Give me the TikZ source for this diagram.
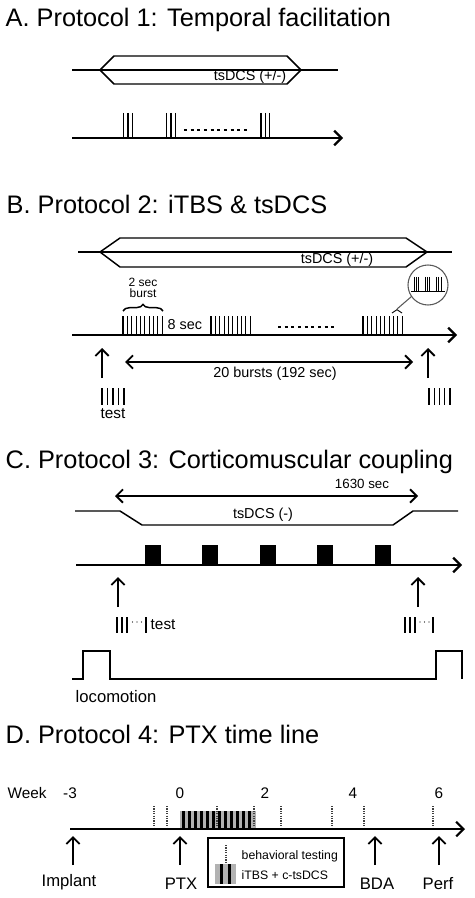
\documentclass[tikz,border=0pt]{standalone}
\usepackage{fontspec}
\setmainfont{Liberation Sans}
\usetikzlibrary{arrows.meta,decorations.pathreplacing}

\begin{document}
\begin{tikzpicture}[x=0.75pt,y=0.75pt,yscale=-1,xscale=1,line width=1.1pt,
  uparr/.style={line width=1.2pt,-{Straight Barb[length=5pt,width=10pt,line width=1.4pt]}},
  darr/.style={line width=1.2pt,{Straight Barb[length=5pt,width=10pt,line width=1.4pt]}-{Straight Barb[length=5pt,width=10pt,line width=1.4pt]}},
  axis/.style={line width=1.35pt,-{Straight Barb[length=5.5pt,width=11pt,line width=1.6pt]}},
  ttl/.style={anchor=base west,inner sep=0pt,font=\fontsize{19}{21}\selectfont},
  lbl/.style={anchor=base,inner sep=0pt,font=\fontsize{10.8}{12}\selectfont},
  spk/.style={line width=0.8pt},
  dotline/.style={line width=2.2pt,dash pattern=on 2.2pt off 2.8pt},
  btest/.style={line width=1pt,dash pattern=on 0.9pt off 0.9pt,black!75},
]
\path[use as bounding box] (0,0) rectangle (474,898);

% ---------------- A ----------------
% Text Node
\node[ttl] (titleA) at (5,27) {A. Protocol 1: Temporal facilitation};
%Shapes
\draw (72,70) -- (338,70);
\draw (100,70) -- (114,56) -- (287,56) -- (301,70) -- (287,84) -- (114,84) -- cycle;
% Text Node
\node[lbl] (dcsA) at (250,81) {tsDCS (+/-)};
%Straight Lines
\draw[axis] (72,138) -- (343,138);
\foreach \x in {123.5,128,132.5,166.7,171,175.3,261,265.3,269.6}
  \draw[spk] (\x,113) -- (\x,138);
\draw[dotline] (184,130) -- (250,130);

% ---------------- B ----------------
% Text Node
\node[ttl] (titleB) at (6,214) {B. Protocol 2: iTBS \& tsDCS};
%Shapes
\draw (78,252) -- (452,252);
\draw (100,252) -- (120,238) -- (406,238) -- (427,252) -- (406,267) -- (120,267) -- cycle;
% Text Node
\node[lbl] (dcsB) at (337,263) {tsDCS (+/-)};
%Straight Lines
\draw[axis] (72,335) -- (457,335);
\foreach \s in {123,211,363}
  \foreach \i in {0,...,9}
    \draw[spk] ({\s+4.35*\i},316) -- ({\s+4.35*\i},335);
\draw[dotline] (278,327) -- (337,327);
% brace over one burst
\draw[decorate,decoration={brace,amplitude=5pt}] (123,311) -- (163,311);
\node[lbl,font=\fontsize{9}{9}\selectfont] (twosec) at (143,286.5) {2 sec};
\node[lbl,font=\fontsize{9}{9}\selectfont] (burst) at (143,297.5) {burst};
\node[lbl,anchor=base west] (eightsec) at (167,329) {8 sec};
% magnified burst
\draw[decorate,decoration={brace,amplitude=2.5pt},line width=0.7pt] (392,313) -- (402,313);
\node[circle,draw=black!65,line width=0.8pt,minimum size=30pt,inner sep=0pt] (zoomc) at (428,285) {};
\draw[black!65,line width=0.8pt] (397,309) -- (zoomc.215);
\foreach \x in {414,416.3,418.6,425,427.3,429.6,436.5,438.8,441.1}
  \draw[line width=0.6pt] (\x,277) -- (\x,291.5);
\draw[line width=0.6pt] (411,291.5) -- (445,291.5);
% test arrows
\draw[uparr] (102,378) coordinate (tailB1) -- (102,348) coordinate (tipB1);
\draw[uparr] (428,378) coordinate (tailB2) -- (428,348) coordinate (tipB2);
\draw[darr] (125,362) coordinate (startB) -- (413,362) coordinate (endB);
\node[lbl] (nburst) at (275,377) {20 bursts (192 sec)};
\foreach \x in {102,107.5,113,118.5,124,429,434.25,439.5,444.75,450}
  \draw[spk] (\x,388) -- (\x,405);
\node[lbl,font=\fontsize{11.5}{12}\selectfont] (testB) at (113,418) {test};

% ---------------- C ----------------
% Text Node
\node[ttl] (titleC) at (5,468) {C. Protocol 3: Corticomuscular coupling};
\draw[darr] (115,496) coordinate (startC) -- (418,496) coordinate (endC);
\node[lbl,font=\fontsize{10}{12}\selectfont] (dur) at (362,488) {1630 sec};
\draw (75,511) -- (120,511) -- (142,525) -- (393,525) -- (413,511) -- (458,511);
\node[lbl] (dcsC) at (263,518) {tsDCS (-)};
\draw[axis] (76,565) -- (462,565);
\foreach \x in {145,202,260,317,375}
  \fill (\x,545) rectangle ++(16,20);
\draw[uparr] (118,607) coordinate (tailC1) -- (118,577) coordinate (tipC1);
\draw[uparr] (418,607) coordinate (tailC2) -- (418,577) coordinate (tipC2);
\foreach \x in {117,122,127,146,405,410,415,433}
  \draw[spk] (\x,617) -- (\x,633);
\foreach \x in {132.5,137,141.5,420,424.5,429}
  \fill (\x,622) circle (0.55pt);
\node[lbl,anchor=base west,font=\fontsize{11.5}{12}\selectfont] (testC) at (150,629) {test};
% locomotion trace
\draw (72,679) -- (83,679) -- (83,651) -- (110,651) -- (110,679) -- (436,679) -- (436,651) -- (462,651) -- (462,679);
\node[lbl,anchor=base west,font=\fontsize{12.5}{14}\selectfont] (loco) at (75,702) {locomotion};

% ---------------- D ----------------
% Text Node
\node[ttl] (titleD) at (5,743) {D. Protocol 4: PTX time line};
\node[lbl,anchor=base west,font=\fontsize{11.5}{12}\selectfont] (week) at (7,798) {Week};
\foreach \x/\w [count=\k] in {70/-3,180/0,265/2,353/4,439/6}
  \node[lbl,font=\fontsize{11.5}{12}\selectfont] (wk\k) at (\x,798) {\w};
% stimulation weeks
\fill[black!30] (180,811) rectangle (256,829);
\foreach \i in {0,...,11}
  \draw[line width=1.7pt] ({183.5+6*\i},811) -- ({183.5+6*\i},829);
\foreach \x in {154,167,217,254,281,332,364,433}
  \draw[btest] (\x,806) -- (\x,829);
\draw[axis] (70,829) -- (465,829);
% events
\node[lbl,font=\fontsize{12.5}{14}\selectfont] (implant) at (69,886) {Implant};
\node[lbl,font=\fontsize{12.5}{14}\selectfont] (ptx) at (181,889) {PTX};
\node[lbl,font=\fontsize{12.5}{14}\selectfont] (bda) at (377,889) {BDA};
\node[lbl,font=\fontsize{12.5}{14}\selectfont] (perf) at (438,889) {Perf};
\draw[uparr] (73,865) coordinate (tailD1) -- (73,836) coordinate (tipD1);
\draw[uparr] (180,865) coordinate (tailD2) -- (180,836) coordinate (tipD2);
\draw[uparr] (375,865) coordinate (tailD3) -- (375,836) coordinate (tipD3);
\draw[uparr] (439,865) coordinate (tailD4) -- (439,836) coordinate (tipD4);
% legend
\draw (208,838) rectangle (344,887);
\draw[btest] (226,845) -- (226,865);
\node[lbl,anchor=base west,font=\fontsize{9.2}{11}\selectfont] (legbt) at (241,859) {behavioral testing};
\fill[black!30] (215,864) rectangle (236,884);
\draw[line width=2.2pt] (221.5,864) -- (221.5,884);
\draw[line width=2.2pt] (229.5,864) -- (229.5,884);
\node[lbl,anchor=base west,font=\fontsize{9.2}{11}\selectfont] (legst) at (241,879) {iTBS + c-tsDCS};

\end{tikzpicture}
\end{document}
